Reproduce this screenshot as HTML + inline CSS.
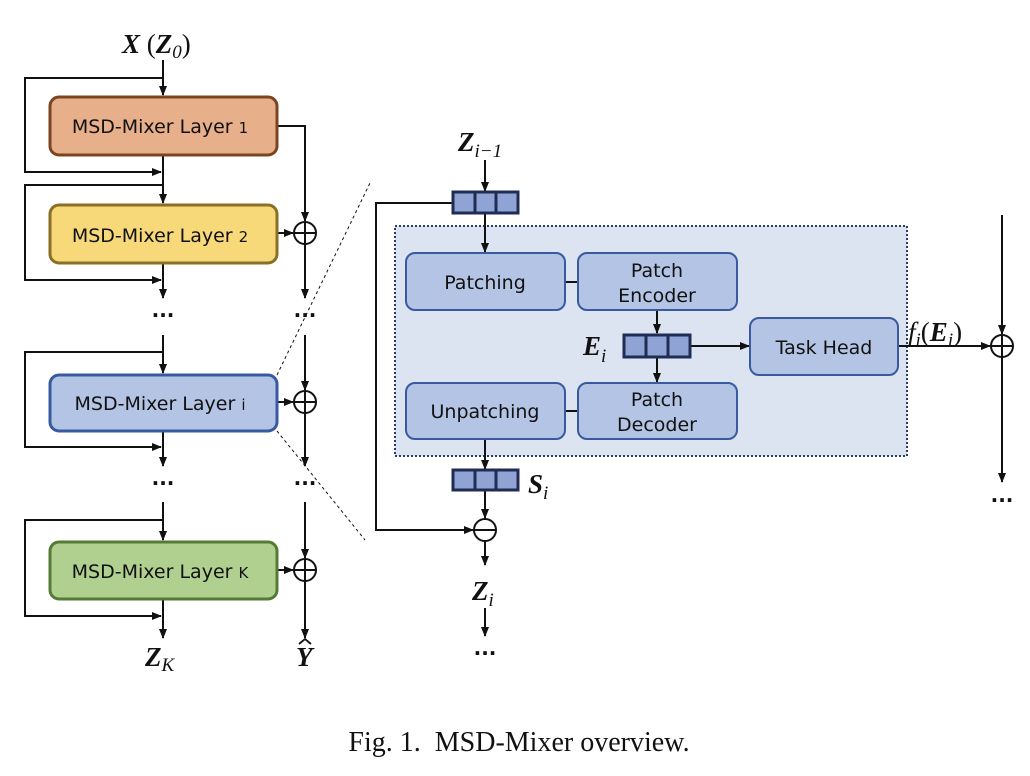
<!DOCTYPE html>
<html><head><meta charset="utf-8"><style>
body{margin:0;background:#fff}
svg{display:block}
.b{font-family:"DejaVu Sans","Liberation Sans",sans-serif;font-size:19px;fill:#111}
.m{font-family:"Liberation Serif",serif;font-weight:bold;font-style:italic;font-size:27px;fill:#111}
.s{font-family:"Liberation Serif",serif;font-style:italic;font-size:19px;fill:#111}
.d{font-family:"DejaVu Sans",sans-serif;font-size:20px;font-weight:bold;fill:#111}
</style></head><body>
<svg width="1030" height="776" viewBox="0 0 1030 776" xmlns="http://www.w3.org/2000/svg">
<defs><marker id="a" markerWidth="10" markerHeight="10" refX="9" refY="5" orient="auto" markerUnits="userSpaceOnUse"><path d="M0,1 L10,5 L0,9 z" fill="#111"/></marker></defs>
<g stroke="#111" stroke-width="2" fill="none">
<path d="M163,60 V95" marker-end="url(#a)"/>
<path d="M163,78 H25 V172 H161" marker-end="url(#a)"/>
<path d="M163,155 V203" marker-end="url(#a)"/>
<path d="M163,185 H25 V280 H161" marker-end="url(#a)"/>
<path d="M163,263 V298" marker-end="url(#a)"/>
<path d="M163,335 V373" marker-end="url(#a)"/>
<path d="M163,352 H25 V447 H161" marker-end="url(#a)"/>
<path d="M163,431 V466" marker-end="url(#a)"/>
<path d="M163,502 V540" marker-end="url(#a)"/>
<path d="M163,520 H25 V616 H161" marker-end="url(#a)"/>
<path d="M163,599 V638" marker-end="url(#a)"/>
<path d="M277,126 H305 V221" marker-end="url(#a)"/>
<path d="M277,233 H293" marker-end="url(#a)"/>
<path d="M305,244 V298" marker-end="url(#a)"/>
<path d="M305,335 V390" marker-end="url(#a)"/>
<path d="M277,402 H293" marker-end="url(#a)"/>
<path d="M305,413 V466" marker-end="url(#a)"/>
<path d="M305,502 V558" marker-end="url(#a)"/>
<path d="M277,570 H293" marker-end="url(#a)"/>
<path d="M305,581 V638" marker-end="url(#a)"/>
<circle cx="305" cy="233" r="11"/><path d="M294,233H316M305,222V244"/>
<circle cx="305" cy="402" r="11"/><path d="M294,402H316M305,391V413"/>
<circle cx="305" cy="570" r="11"/><path d="M294,570H316M305,559V581"/>
</g>
<path d="M277,375 L370,183 M277,431 L365,540" stroke="#111" stroke-width="1" stroke-dasharray="3,3"/>
<rect x="50" y="97" width="227" height="58" rx="9" fill="#e8b08a" stroke="#7a4520" stroke-width="3"/>
<rect x="50" y="205" width="227" height="58" rx="9" fill="#f7d97a" stroke="#8a7025" stroke-width="3"/>
<rect x="50" y="375" width="227" height="56" rx="9" fill="#b4c4e4" stroke="#3a5aa0" stroke-width="3"/>
<rect x="50" y="542" width="227" height="57" rx="9" fill="#b0d08f" stroke="#557a35" stroke-width="3"/>
<text class="b" x="160" y="133" text-anchor="middle">MSD-Mixer Layer <tspan font-size="15">1</tspan></text>
<text class="b" x="160" y="242" text-anchor="middle">MSD-Mixer Layer <tspan font-size="15">2</tspan></text>
<text class="b" x="160" y="410" text-anchor="middle">MSD-Mixer Layer <tspan font-size="15">i</tspan></text>
<text class="b" x="160" y="578" text-anchor="middle">MSD-Mixer Layer <tspan font-size="15">K</tspan></text>
<text class="m" x="122" y="53">X <tspan font-weight="normal" font-style="normal">(</tspan>Z<tspan class="s" font-style="normal" font-weight="normal" dy="5">0</tspan><tspan dy="-5" font-weight="normal" font-style="normal">)</tspan></text>
<text class="d" x="163" y="322" text-anchor="middle">···</text>
<text class="d" x="305" y="322" text-anchor="middle">···</text>
<text class="d" x="163" y="490" text-anchor="middle">···</text>
<text class="d" x="305" y="490" text-anchor="middle">···</text>
<text class="m" x="145" y="666">Z<tspan class="s" font-weight="normal" dy="5">K</tspan></text>
<text class="m" x="296" y="666">Y</text>
<path d="M299,644 L305,639 L311,644" stroke="#111" stroke-width="1.8" fill="none"/>
<rect x="395" y="226" width="512" height="230" fill="#dce3f1" stroke="#2a3a6a" stroke-width="2" stroke-dasharray="2,2"/>
<g stroke="#111" stroke-width="2" fill="none">
<path d="M485,160 V191" marker-end="url(#a)"/>
<path d="M453,203 H376 V530 H473" marker-end="url(#a)"/>
<path d="M485,213 V252" marker-end="url(#a)"/>
<path d="M565,282 H578 M565,411 H578"/>
<path d="M657,310 V333" marker-end="url(#a)"/>
<path d="M657,357 V382" marker-end="url(#a)"/>
<path d="M690,346 H749" marker-end="url(#a)"/>
<path d="M485,439 V469" marker-end="url(#a)"/>
<path d="M485,490 V518" marker-end="url(#a)"/>
<path d="M485,541 V565" marker-end="url(#a)"/>
<path d="M485,608 V636" marker-end="url(#a)"/>
<path d="M898,346 H990" marker-end="url(#a)"/>
<path d="M1002,215 V334" marker-end="url(#a)"/>
<path d="M1002,357 V482" marker-end="url(#a)"/>
<circle cx="485" cy="530" r="11"/><path d="M474,530H496"/>
<circle cx="1002" cy="346" r="11"/><path d="M991,346H1013M1002,335V357"/>
</g>
<g fill="#b4c4e4" stroke="#3a5aa0" stroke-width="2">
<rect x="406" y="253" width="159" height="57" rx="9"/>
<rect x="578" y="253" width="159" height="57" rx="9"/>
<rect x="406" y="383" width="159" height="56" rx="9"/>
<rect x="578" y="383" width="159" height="56" rx="9"/>
<rect x="750" y="318" width="148" height="57" rx="9"/>
</g>
<g fill="#8fa3d4" stroke="#1f2d55" stroke-width="3">
<rect x="453" y="192" width="65" height="21"/><path d="M475,192V213M496,192V213"/>
<rect x="624" y="335" width="66" height="22"/><path d="M646,335V357M668,335V357"/>
<rect x="453" y="470" width="65" height="20"/><path d="M475,470V490M496,470V490"/>
</g>
<text class="b" x="485" y="289" text-anchor="middle">Patching</text>
<text class="b" x="657" y="277" text-anchor="middle">Patch</text>
<text class="b" x="657" y="302" text-anchor="middle">Encoder</text>
<text class="b" x="485" y="418" text-anchor="middle">Unpatching</text>
<text class="b" x="657" y="406" text-anchor="middle">Patch</text>
<text class="b" x="657" y="431" text-anchor="middle">Decoder</text>
<text class="b" x="824" y="354" text-anchor="middle">Task Head</text>
<text class="m" x="458" y="151">Z<tspan class="s" font-weight="normal" dy="6">i−1</tspan></text>
<text class="m" x="583" y="355">E<tspan class="s" font-weight="normal" dy="7">i</tspan></text>
<text class="m" x="528" y="493">S<tspan class="s" font-weight="normal" dy="6">i</tspan></text>
<text class="m" x="472" y="600">Z<tspan class="s" font-weight="normal" dy="6">i</tspan></text>
<text class="m" x="908" y="341"><tspan font-weight="normal">f</tspan><tspan class="s" font-weight="normal" dy="5">i</tspan><tspan dy="-5" font-weight="normal" font-style="normal">(</tspan>E<tspan class="s" font-weight="normal" dy="5">i</tspan><tspan dy="-5" font-weight="normal" font-style="normal">)</tspan></text>
<text class="d" x="485" y="660" text-anchor="middle">···</text>
<text class="d" x="1002" y="507" text-anchor="middle">···</text>
<text x="519" y="751" text-anchor="middle" font-family="Liberation Serif,serif" font-size="28" fill="#111" xml:space="preserve">Fig. 1.  MSD-Mixer overview.</text>
</svg>
</body></html>
